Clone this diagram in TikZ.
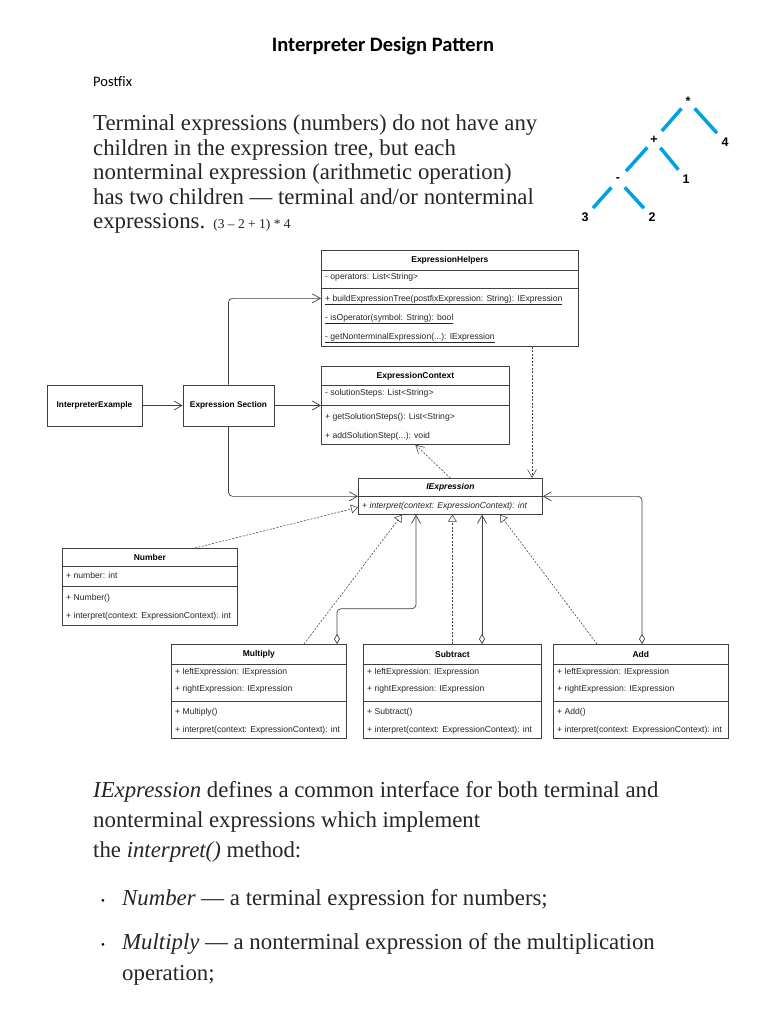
\documentclass[tikz,border=0pt]{standalone}
\usepackage{fontspec}
\setmainfont{Liberation Serif}
\setsansfont{Liberation Sans}
\newfontfamily\calibri{Carlito}
\usetikzlibrary{arrows.meta,calc,shadows}

\definecolor{treeblue}{RGB}{0,160,226}
\definecolor{umlgray}{RGB}{64,64,64}

\begin{document}
\begin{tikzpicture}[x=1pt,y=-1pt,
  para/.style={anchor=base west, inner sep=0pt, align=left, text=black!85, font=\fontsize{22.8}{24.5}\selectfont},
  tn/.style={inner sep=0pt, font=\sffamily\bfseries\fontsize{12.5}{14}\selectfont},
  branch/.style={treeblue, line width=3.5pt, shorten <=10pt, shorten >=12pt},
  cls/.style={draw=umlgray, fill=white, anchor=north west, inner sep=0pt, line width=0.7pt,
    drop shadow={shadow xshift=1pt, shadow yshift=-1pt, fill=black!35, opacity=1}},
  box/.style={cls, anchor=center, font=\sffamily\bfseries\fontsize{8.3}{10}\selectfont},
  head/.style={inner sep=0pt, font=\sffamily\bfseries\fontsize{8.5}{10}\selectfont},
  row/.style={anchor=west, inner sep=0pt, text=black!85, font=\sffamily\fontsize{8.6}{10}\selectfont},
  assoc/.style={umlgray, line width=0.7pt, -{Straight Barb[length=8pt,width=9pt]}},
  dep/.style={assoc, dash pattern=on 2pt off 1.5pt, line width=0.55pt},
  real/.style={umlgray, line width=0.55pt, dash pattern=on 2pt off 1.5pt, -{Triangle[open,length=7pt,width=9pt]}},
  comp/.style={umlgray, line width=0.7pt, {Diamond[open,length=10pt,width=6pt]}-{Straight Barb[length=8pt,width=9pt]}}
]
\path[use as bounding box, fill=white] (0,0) rectangle (768,1024);

% heading
\node[anchor=base, inner sep=0pt, font=\calibri\bfseries\fontsize{20.5}{24}\selectfont] (title) at (383,52) {Interpreter Design Pattern};
\node[anchor=base west, inner sep=0pt, font=\calibri\fontsize{14.5}{16}\selectfont] (postfix) at (93,87) {Postfix};
% base of a multi-line node = its last line
\node[para] (intro) at (93,229) {Terminal expressions (numbers) do not have any\\
  children in the expression tree, but each\\
  nonterminal expression (arithmetic operation)\\
  has two children — terminal and/or nonterminal\\
  expressions.\hspace{8pt}{\fontsize{13.5}{15}\selectfont (3 – 2 + 1) * 4}};

% expression tree
\node[tn] (times) at (688,101) {*};
\node[tn] (plus) at (654,140) {+};
\node[tn] (four) at (725,142) {4};
\node[tn] (minus) at (618,180) {-};
\node[tn] (one) at (686,179) {1};
\node[tn] (three) at (585,217) {3};
\node[tn] (two) at (652,217) {2};
\foreach \a/\b in {times/plus, times/four, plus/minus, plus/one, minus/three, minus/two}
  \draw[branch] (\a.center) -- (\b.center);

% classes
\node[cls, minimum width=257, minimum height=96] (helpers) at (321,250) {};
\node[cls, minimum width=188, minimum height=78] (ctx) at (321,366) {};
\node[cls, minimum width=184, minimum height=36] (iexpr) at (358,478) {};
\node[cls, minimum width=175, minimum height=77] (number) at (62,548) {};
\node[cls, minimum width=175, minimum height=94] (mult) at (171,644) {};
\node[cls, minimum width=178, minimum height=94] (sub) at (363,644) {};
\node[cls, minimum width=175, minimum height=94] (add) at (553,644) {};
\foreach \c/\d in {helpers/20, helpers/38, ctx/19, ctx/39, iexpr/18, number/18, number/38,
    mult/20, mult/57, sub/20, sub/57, add/20, add/57}
  \draw[umlgray, line width=0.7pt] ($(\c.north west)+(0,\d)$) -- ($(\c.north east)+(0,\d)$);
\foreach \c/\t/\d in {helpers/ExpressionHelpers/10, ctx/ExpressionContext/10, number/Number/9,
    mult/Multiply/10, sub/Subtract/10, add/Add/10}
  \node[head] (\c-t) at ($(\c.north)+(0,\d)$) {\t};
\node[head, font=\sffamily\bfseries\itshape\fontsize{8.5}{10}\selectfont] (iexpr-t) at ($(iexpr.north)+(0,9)$) {IExpression};

\node[row] (helpers-1) at ($(helpers.north west)+(4,27)$) {- operators: List<String>};
\node[row] (helpers-2) at ($(helpers.north west)+(4,50)$) {\underline{+ buildExpressionTree(postfixExpression: String): IExpression}};
\node[row] (helpers-3) at ($(helpers.north west)+(4,69)$) {\underline{- isOperator(symbol: String): bool}};
\node[row] (helpers-4) at ($(helpers.north west)+(4,88)$) {\underline{- getNonterminalExpression(...): IExpression}};
\node[row] (ctx-1) at ($(ctx.north west)+(4,27)$) {- solutionSteps: List<String>};
\node[row] (ctx-2) at ($(ctx.north west)+(4,51)$) {+ getSolutionSteps(): List<String>};
\node[row] (ctx-3) at ($(ctx.north west)+(4,70)$) {+ addSolutionStep(...): void};
\node[row, font=\sffamily\itshape\fontsize{8.6}{10}\selectfont] (iexpr-1) at ($(iexpr.north west)+(4,28)$) {+ interpret(context: ExpressionContext): int};
\node[row] (number-1) at ($(number.north west)+(4,27)$) {+ number: int};
\node[row] (number-2) at ($(number.north west)+(4,50)$) {+ Number()};
\node[row] (number-3) at ($(number.north west)+(4,68)$) {+ interpret(context: ExpressionContext): int};
\foreach \c/\k in {mult/Multiply, sub/Subtract, add/Add} {
  \node[row] (\c-1) at ($(\c.north west)+(4,28)$) {+ leftExpression: IExpression};
  \node[row] (\c-2) at ($(\c.north west)+(4,45)$) {+ rightExpression: IExpression};
  \node[row] (\c-3) at ($(\c.north west)+(4,68)$) {+ \k()};
  \node[row] (\c-4) at ($(\c.north west)+(4,86)$) {+ interpret(context: ExpressionContext): int};
}

\node[box, minimum width=95, minimum height=41] (example) at (94.5,405.5) {InterpreterExample};
\node[box, minimum width=91, minimum height=41] (section) at (228.5,405.5) {Expression Section};

% connectors
\draw[assoc] (example) -- (section);
\draw[assoc] (section.east) -- (section.east -| ctx.west);
\draw[assoc, rounded corners=4] (section.north) |- (helpers.west);
\draw[assoc, rounded corners=4] (section.south) |- (iexpr.west);
\draw[dep] ($(helpers.south west)+(211,0)$) -- ($(iexpr.north west)+(174,0)$);
\draw[dep] (iexpr.north) -- (ctx.south);
\draw[real] ($(number.north west)+(133,0)$) -- ($(iexpr.west)+(0,11)$);
\draw[real] ($(mult.north west)+(133,0)$) -- ($(iexpr.south west)+(44,0)$);
\draw[comp, rounded corners=4] ($(mult.north west)+(166,0)$) |- ($(iexpr.south west)+(58,94)$) -- ($(iexpr.south west)+(58,0)$);
\draw[real] (sub.north) -- (sub.north |- iexpr.south);
\draw[comp] ($(sub.north west)+(119,0)$) -- ($(iexpr.south west)+(124,0)$);
\draw[real] ($(add.north west)+(44,0)$) -- ($(iexpr.south west)+(142,0)$);
\draw[comp, rounded corners=4] ($(add.north west)+(89,0)$) |- (iexpr.east);

% description
\node[para, font=\fontsize{22.8}{30}\selectfont] (defs) at (93,857) {\textit{IExpression} defines a common interface for both terminal and\\
  nonterminal expressions which implement\\
  the \textit{interpret()} method:};
\node[anchor=base, inner sep=0pt, font=\fontsize{11}{12}\selectfont] (dot1) at (103,904) {•};
\node[para] (item1) at (122,905) {\textit{Number} — a terminal expression for numbers;};
\node[anchor=base, inner sep=0pt, font=\fontsize{11}{12}\selectfont] (dot2) at (103,948) {•};
\node[para, font=\fontsize{22.8}{31}\selectfont] (item2) at (122,980) {\textit{Multiply} — a nonterminal expression of the multiplication\\
  operation;};
\end{tikzpicture}
\end{document}
